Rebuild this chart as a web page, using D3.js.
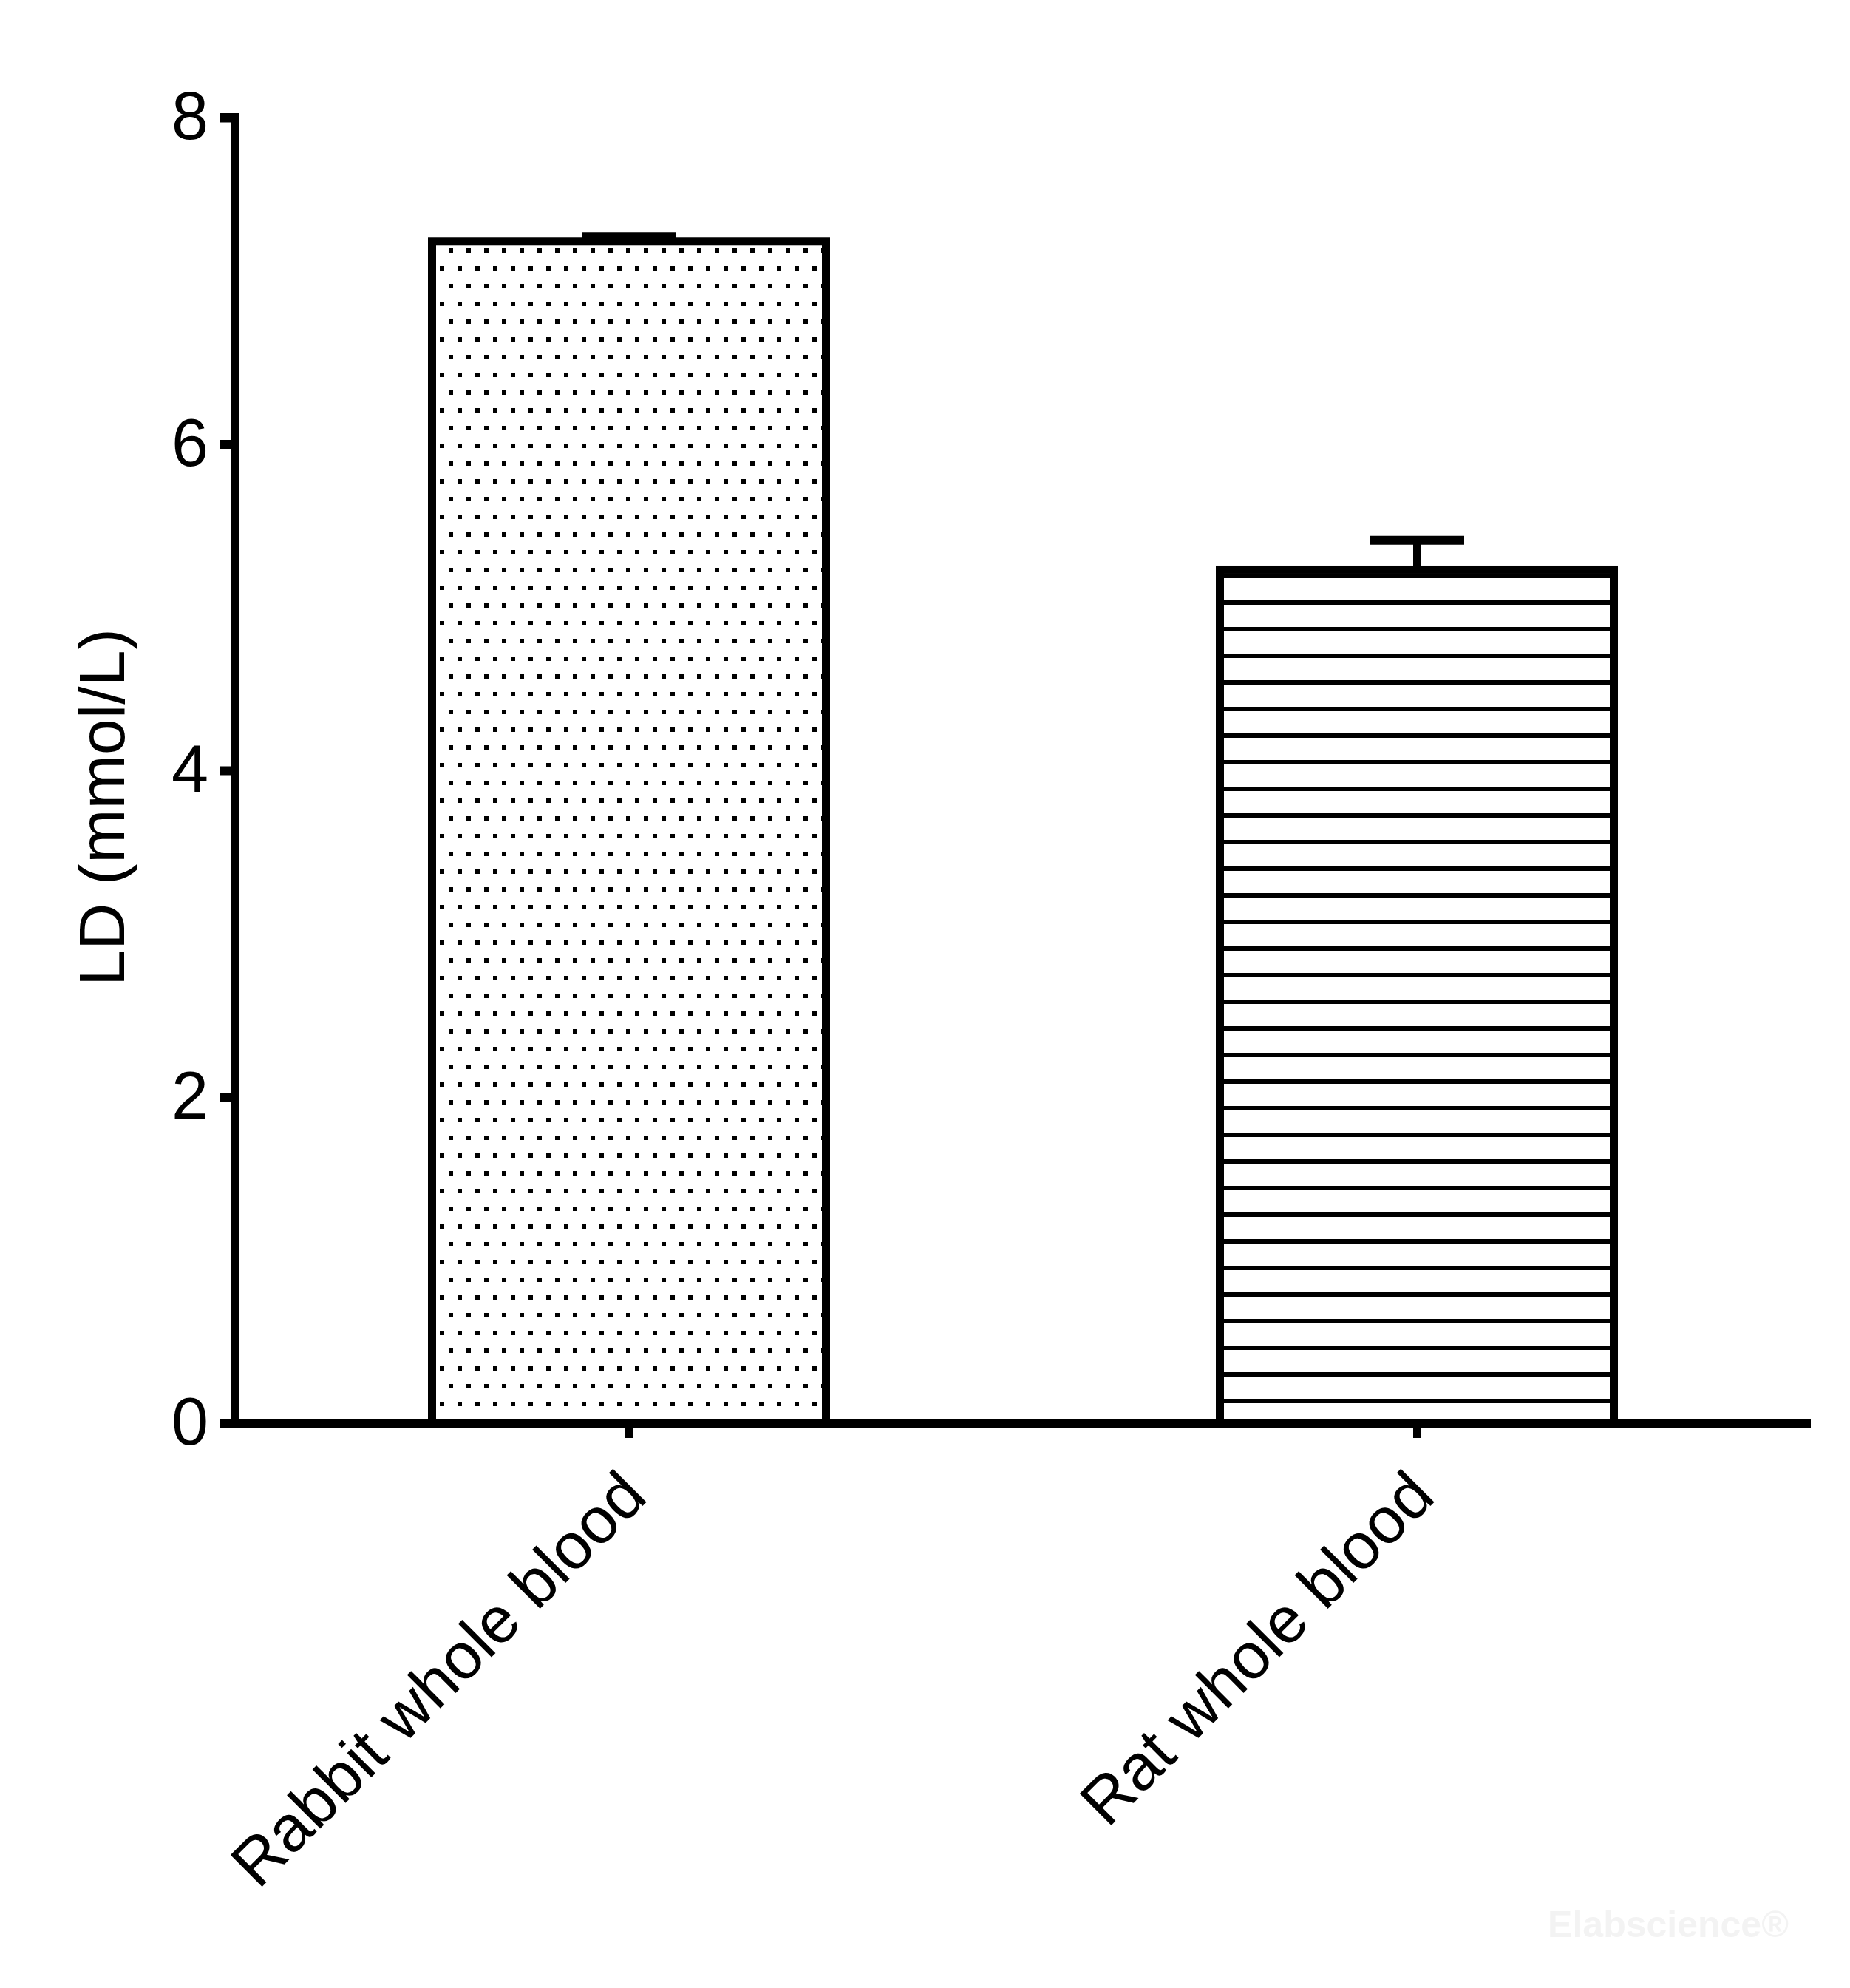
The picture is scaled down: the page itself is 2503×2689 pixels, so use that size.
<!DOCTYPE html>
<html><head><meta charset="utf-8">
<script src="https://cdn.jsdelivr.net/npm/d3@7"></script>
<style>body{margin:0;background:#fff}</style></head>
<body><svg id="c" width="2503" height="2689"></svg>
<script>
const categories = ["Rabbit whole blood", "Rat whole blood"];
const means = [7.24, 5.23];
const errors = [0.03, 0.18];
const patterns = ["dots", "hlines"];
const yTicks = [0, 2, 4, 6, 8];

(function(){
const svg = d3.select("#c");
const mL = 318, mR = 2450, mT = 159, mB = 1925;
const y = d3.scaleLinear().domain([0, 8]).range([mB, mT]);
const x = d3.scaleBand().domain(categories).range([mL, mR]).paddingInner(0.5).paddingOuter(0.25);

const defs = svg.append("defs");
const pd = defs.append("pattern").attr("id", "dots").attr("patternUnits", "userSpaceOnUse")
  .attr("width", 24).attr("height", 48).attr("x", 595).attr("y", 0);
pd.append("rect").attr("x", 12).attr("y", 0).attr("width", 6).attr("height", 6);
pd.append("rect").attr("x", 0).attr("y", 24).attr("width", 6).attr("height", 6);
const ph = defs.append("pattern").attr("id", "hlines").attr("patternUnits", "userSpaceOnUse")
  .attr("width", 40).attr("height", 36).attr("y", mB + 3);
ph.append("rect").attr("x", 0).attr("y", 0).attr("width", 40).attr("height", 6);

const g = svg.append("g");
categories.forEach((c, i) => {
  const bx = x(c), bw = x.bandwidth(), cx = bx + bw / 2;
  g.append("line").attr("x1", cx).attr("x2", cx).attr("y1", y(means[i])).attr("y2", y(means[i] + errors[i]))
    .attr("stroke", "#000").attr("stroke-width", 10);
  g.append("line").attr("x1", cx - 64).attr("x2", cx + 64).attr("y1", y(means[i] + errors[i])).attr("y2", y(means[i] + errors[i]))
    .attr("stroke", "#000").attr("stroke-width", 12);
  g.append("rect").attr("x", bx).attr("y", y(means[i])).attr("width", bw).attr("height", y(0) - y(means[i]))
    .attr("fill", "#fff");
  g.append("rect").attr("x", bx).attr("y", y(means[i])).attr("width", bw).attr("height", y(0) - y(means[i]))
    .attr("fill", "url(#" + patterns[i] + ")").attr("stroke", "#000").attr("stroke-width", 11);
});

const ya = svg.append("g").attr("transform", `translate(${mL},0)`)
  .call(d3.axisLeft(y).tickValues(yTicks).tickSize(20).tickPadding(16).tickFormat(d3.format("d")));
ya.select(".domain").attr("stroke-width", 12).attr("d", `M-20,${mT}H0V${mB}`);
ya.selectAll(".tick line").attr("stroke-width", 12);
ya.selectAll("text").attr("font-family", "Liberation Sans, Arial, sans-serif").attr("font-size", 90).attr("fill", "#000");

const xa = svg.append("g").attr("transform", `translate(0,${mB})`)
  .call(d3.axisBottom(x).tickSize(20).tickPadding(0));
xa.select(".domain").attr("stroke-width", 12).attr("d", `M${mL - 20},0H${mR}`);
xa.selectAll(".tick line").attr("stroke-width", 10);
xa.selectAll(".tick text").attr("font-family", "Liberation Sans, Arial, sans-serif").attr("font-size", 88)
  .attr("fill", "#000").attr("text-anchor", "end").attr("dy", "0.7em")
  .attr("transform", "translate(-30,45) rotate(-45)");

svg.append("text").attr("transform", `translate(168,${(mT + mB) / 2 + 50}) rotate(-90)`)
  .attr("text-anchor", "middle").attr("font-family", "Liberation Sans, Arial, sans-serif").attr("font-size", 88)
  .text("LD (mmol/L)");

svg.append("text").attr("x", 2420).attr("y", 2620).attr("text-anchor", "end")
  .attr("font-family", "Liberation Sans, Arial, sans-serif").attr("font-weight", "bold").attr("font-size", 50)
  .attr("fill", "#f3f3f3").text("Elabscience®");
})();
</script></body></html>
